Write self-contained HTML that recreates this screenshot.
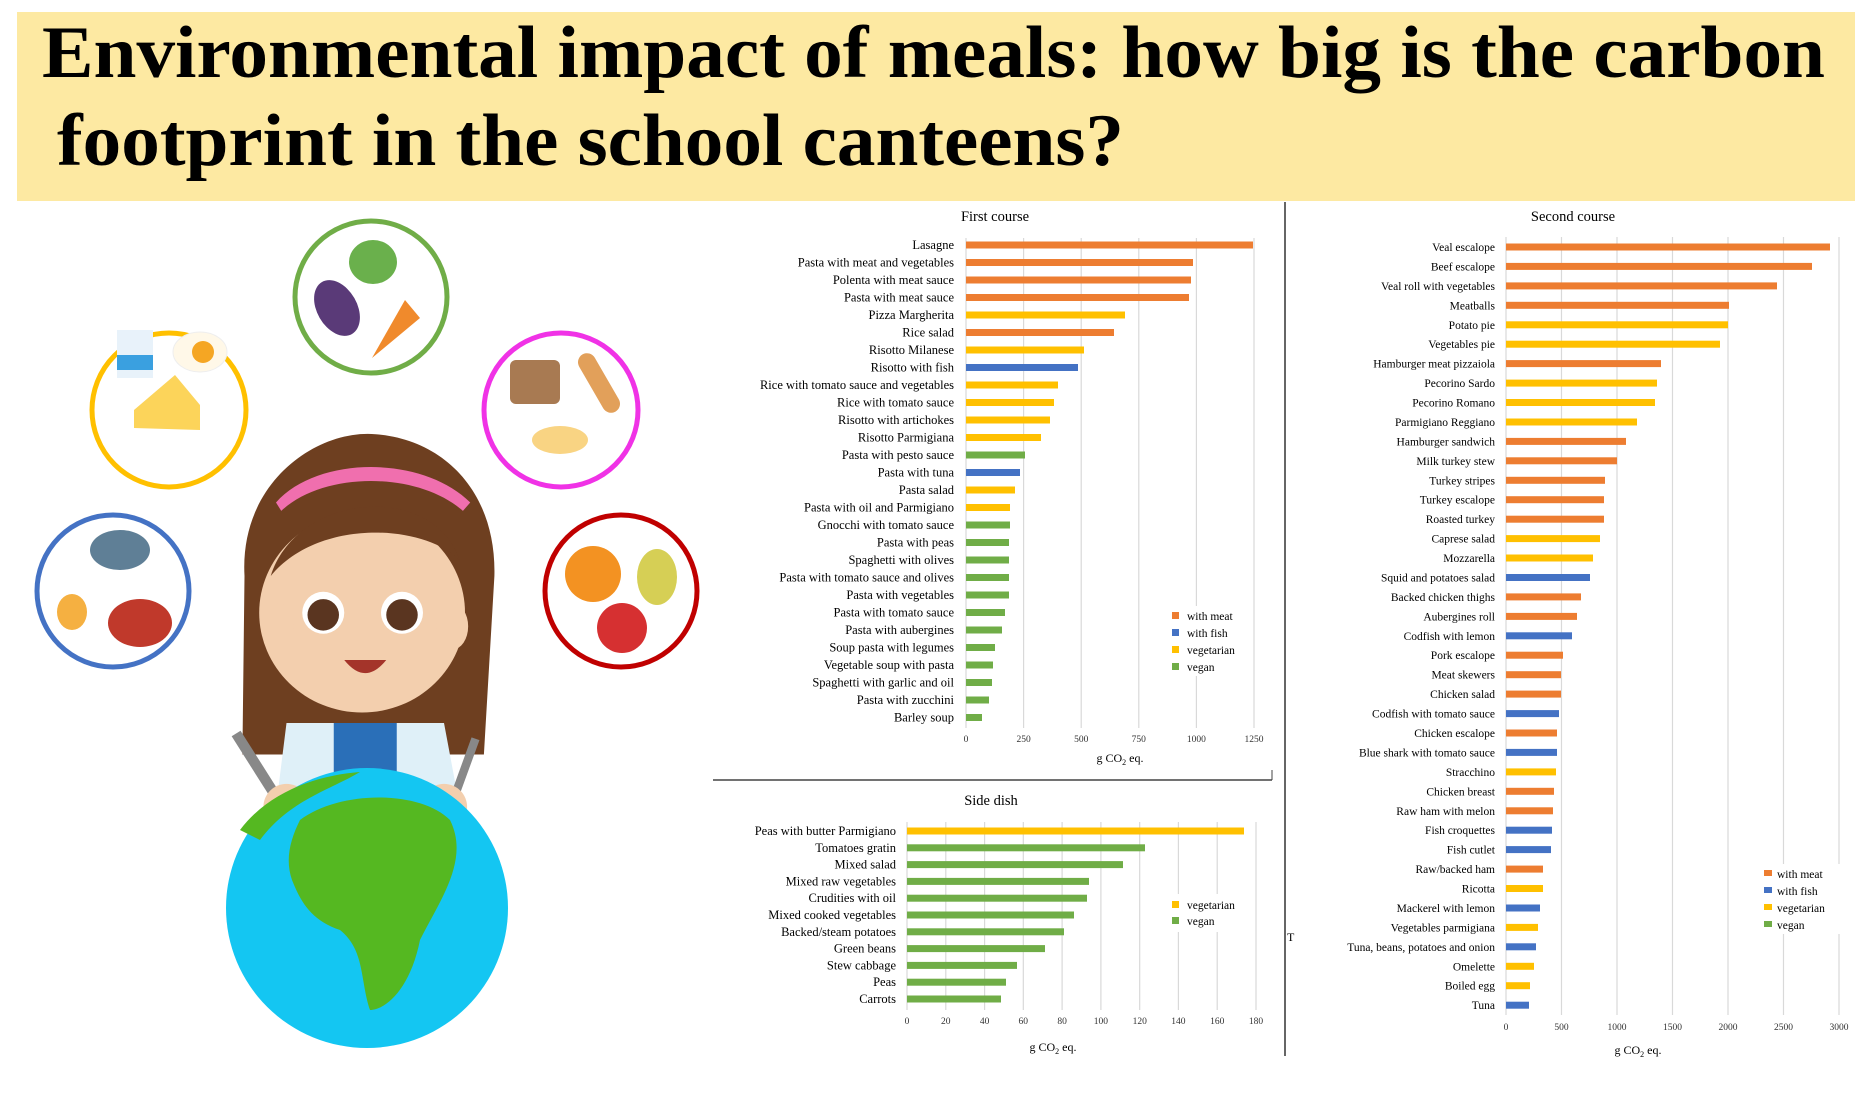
<!DOCTYPE html>
<html><head><meta charset="utf-8"><style>
html,body{margin:0;padding:0;background:#fff;}
svg{display:block;}
text{font-family:"Liberation Serif",serif;fill:#000;}
.l1{font-size:12.5px;text-anchor:end;}
.l2{font-size:11.5px;text-anchor:end;}
.tk{font-size:9.5px;text-anchor:middle;fill:#333;}
.ttl{font-size:14.5px;text-anchor:middle;}
.lg{font-size:11.5px;}
</style></head><body>
<svg width="1864" height="1093" viewBox="0 0 1864 1093" xmlns="http://www.w3.org/2000/svg">
<rect width="1864" height="1093" fill="#fff"/>
<rect x="17" y="12" width="1838" height="189" fill="#fde9a2"/>
<text x="42" y="77" font-size="74" font-weight="bold" textLength="1783" lengthAdjust="spacingAndGlyphs">Environmental impact of meals: how big is the carbon</text>
<text x="57" y="165" font-size="74" font-weight="bold" textLength="1067" lengthAdjust="spacingAndGlyphs">footprint in the school canteens?</text>

<g>
<circle cx="371" cy="297" r="76" fill="none" stroke="#70ad47" stroke-width="5"/>
<ellipse cx="337" cy="308" rx="20" ry="30" fill="#5a3a78" transform="rotate(-30 337 308)"/>
<ellipse cx="373" cy="262" rx="24" ry="22" fill="#6ab04c"/>
<polygon points="372,358 405,300 420,318" fill="#f08a2c"/>
<circle cx="169" cy="410" r="77" fill="none" stroke="#ffc000" stroke-width="5"/>
<rect x="117" y="330" width="36" height="48" fill="#e8f2fa"/><rect x="117" y="355" width="36" height="15" fill="#3aa0e0"/>
<ellipse cx="200" cy="352" rx="27" ry="20" fill="#fff8e8" stroke="#eee"/><circle cx="203" cy="352" r="11" fill="#f5a623"/>
<polygon points="134,410 175,375 200,405 200,430 134,428" fill="#fcd45a"/>
<circle cx="561" cy="410" r="77" fill="none" stroke="#f032e6" stroke-width="5"/>
<rect x="510" y="360" width="50" height="44" rx="6" fill="#a87a52"/>
<rect x="590" y="350" width="18" height="66" rx="9" fill="#e2a05a" transform="rotate(-30 599 383)"/>
<ellipse cx="560" cy="440" rx="28" ry="14" fill="#f9d483"/>
<circle cx="113" cy="591" r="76" fill="none" stroke="#4472c4" stroke-width="5"/>
<ellipse cx="120" cy="550" rx="30" ry="20" fill="#5f7f96"/>
<ellipse cx="72" cy="612" rx="15" ry="18" fill="#f5b041"/>
<ellipse cx="140" cy="623" rx="32" ry="24" fill="#c0392b"/>
<circle cx="621" cy="591" r="76" fill="none" stroke="#c00000" stroke-width="5"/>
<circle cx="593" cy="574" r="28" fill="#f39222"/>
<ellipse cx="657" cy="577" rx="20" ry="28" fill="#d6cf55"/>
<circle cx="622" cy="628" r="25" fill="#d63031"/>
<g transform="translate(-18,30) scale(1.05)">
<path d="M250,520 C245,430 320,380 375,385 C440,390 490,440 488,520 L478,690 L248,690 Z" fill="#6e3f20"/>
<ellipse cx="362" cy="555" rx="98" ry="95" fill="#f3cfae"/>
<path d="M275,520 C300,440 430,430 455,505 C420,470 320,465 275,520Z" fill="#6e3f20"/>
<path d="M280,450 C320,405 420,405 465,450 L458,458 C415,420 325,420 285,458Z" fill="#f06fae"/>
<ellipse cx="282" cy="568" rx="15" ry="22" fill="#f3cfae"/><ellipse cx="448" cy="568" rx="15" ry="22" fill="#f3cfae"/>
<circle cx="325" cy="555" r="20" fill="#fff"/><circle cx="325" cy="557" r="15" fill="#5a3520"/>
<circle cx="400" cy="555" r="20" fill="#fff"/><circle cx="400" cy="557" r="15" fill="#5a3520"/>
<path d="M345,600 Q365,625 385,600 Z" fill="#a4342a"/>
<path d="M290,660 L440,660 L455,740 L280,740Z" fill="#dff0f8"/>
<rect x="335" y="660" width="60" height="85" fill="#2a6fb8"/>
<path d="M242,670 L280,730" stroke="#888" stroke-width="10"/><path d="M470,675 L450,730" stroke="#888" stroke-width="8"/>
<circle cx="290" cy="740" r="22" fill="#f3cfae"/><circle cx="440" cy="740" r="22" fill="#f3cfae"/>
</g>
<ellipse cx="367" cy="908" rx="141" ry="140" fill="#14c6f2"/>
<path d="M300,820 C340,790 420,790 450,820 C470,860 440,900 420,940 C410,990 385,1010 370,1010 C360,980 365,950 340,930 C310,920 300,900 292,880 C285,860 290,840 300,820Z" fill="#55b821"/>
<path d="M240,830 C270,790 320,775 360,772 C330,790 290,800 260,840Z" fill="#55b821"/>
</g>

<line x1="1285" y1="202" x2="1285" y2="1056" stroke="#333" stroke-width="1.5"/>
<line x1="713" y1="780" x2="1272" y2="780" stroke="#444" stroke-width="1.5"/>
<line x1="1272" y1="770" x2="1272" y2="780" stroke="#444" stroke-width="1"/>
<text x="1287" y="941" font-size="12">T</text>

<text class="ttl" x="995" y="221">First course</text>
<g stroke="#d9d9d9" stroke-width="1.2">
<line x1="966" y1="238" x2="966" y2="728"/><line x1="1023.6" y1="238" x2="1023.6" y2="728"/><line x1="1081.2" y1="238" x2="1081.2" y2="728"/><line x1="1138.8" y1="238" x2="1138.8" y2="728"/><line x1="1196.4" y1="238" x2="1196.4" y2="728"/><line x1="1254" y1="238" x2="1254" y2="728"/>
</g>
<g>
<rect x="966" y="241.5" width="287" height="7" fill="#ed7d31"/>
<rect x="966" y="259" width="227" height="7" fill="#ed7d31"/>
<rect x="966" y="276.5" width="225" height="7" fill="#ed7d31"/>
<rect x="966" y="294" width="223" height="7" fill="#ed7d31"/>
<rect x="966" y="311.5" width="159" height="7" fill="#ffc000"/>
<rect x="966" y="329" width="148" height="7" fill="#ed7d31"/>
<rect x="966" y="346.5" width="118" height="7" fill="#ffc000"/>
<rect x="966" y="364" width="112" height="7" fill="#4472c4"/>
<rect x="966" y="381.5" width="92" height="7" fill="#ffc000"/>
<rect x="966" y="399" width="88" height="7" fill="#ffc000"/>
<rect x="966" y="416.5" width="84" height="7" fill="#ffc000"/>
<rect x="966" y="434" width="75" height="7" fill="#ffc000"/>
<rect x="966" y="451.5" width="59" height="7" fill="#70ad47"/>
<rect x="966" y="469" width="54" height="7" fill="#4472c4"/>
<rect x="966" y="486.5" width="49" height="7" fill="#ffc000"/>
<rect x="966" y="504" width="44" height="7" fill="#ffc000"/>
<rect x="966" y="521.5" width="44" height="7" fill="#70ad47"/>
<rect x="966" y="539" width="43" height="7" fill="#70ad47"/>
<rect x="966" y="556.5" width="43" height="7" fill="#70ad47"/>
<rect x="966" y="574" width="43" height="7" fill="#70ad47"/>
<rect x="966" y="591.5" width="43" height="7" fill="#70ad47"/>
<rect x="966" y="609" width="39" height="7" fill="#70ad47"/>
<rect x="966" y="626.5" width="36" height="7" fill="#70ad47"/>
<rect x="966" y="644" width="29" height="7" fill="#70ad47"/>
<rect x="966" y="661.5" width="27" height="7" fill="#70ad47"/>
<rect x="966" y="679" width="26" height="7" fill="#70ad47"/>
<rect x="966" y="696.5" width="23" height="7" fill="#70ad47"/>
<rect x="966" y="714" width="16" height="7" fill="#70ad47"/>
</g>
<g>
<text class="l1" x="954" y="249">Lasagne</text>
<text class="l1" x="954" y="266.5">Pasta with meat and vegetables</text>
<text class="l1" x="954" y="284">Polenta with meat sauce</text>
<text class="l1" x="954" y="301.5">Pasta with meat sauce</text>
<text class="l1" x="954" y="319">Pizza Margherita</text>
<text class="l1" x="954" y="336.5">Rice salad</text>
<text class="l1" x="954" y="354">Risotto Milanese</text>
<text class="l1" x="954" y="371.5">Risotto with fish</text>
<text class="l1" x="954" y="389">Rice with tomato sauce and vegetables</text>
<text class="l1" x="954" y="406.5">Rice with tomato sauce</text>
<text class="l1" x="954" y="424">Risotto with artichokes</text>
<text class="l1" x="954" y="441.5">Risotto Parmigiana</text>
<text class="l1" x="954" y="459">Pasta with pesto sauce</text>
<text class="l1" x="954" y="476.5">Pasta with tuna</text>
<text class="l1" x="954" y="494">Pasta salad</text>
<text class="l1" x="954" y="511.5">Pasta with oil and Parmigiano</text>
<text class="l1" x="954" y="529">Gnocchi with tomato sauce</text>
<text class="l1" x="954" y="546.5">Pasta with peas</text>
<text class="l1" x="954" y="564">Spaghetti with olives</text>
<text class="l1" x="954" y="581.5">Pasta with tomato sauce and olives</text>
<text class="l1" x="954" y="599">Pasta with vegetables</text>
<text class="l1" x="954" y="616.5">Pasta with tomato sauce</text>
<text class="l1" x="954" y="634">Pasta with aubergines</text>
<text class="l1" x="954" y="651.5">Soup pasta with legumes</text>
<text class="l1" x="954" y="669">Vegetable soup with pasta</text>
<text class="l1" x="954" y="686.5">Spaghetti with garlic and oil</text>
<text class="l1" x="954" y="704">Pasta with zucchini</text>
<text class="l1" x="954" y="721.5">Barley soup</text>
</g>
<text class="tk" x="966" y="742">0</text><text class="tk" x="1023.6" y="742">250</text><text class="tk" x="1081.2" y="742">500</text><text class="tk" x="1138.8" y="742">750</text><text class="tk" x="1196.4" y="742">1000</text><text class="tk" x="1254" y="742">1250</text>
<text x="1120" y="762" font-size="12" text-anchor="middle">g CO<tspan font-size="8" dy="3">2</tspan><tspan dy="-3"> eq.</tspan></text>
<rect x="1168" y="606" width="84" height="70" fill="#fff"/>
<rect x="1172" y="612" width="7" height="7" fill="#ed7d31"/><text class="lg" x="1187" y="620">with meat</text>
<rect x="1172" y="629" width="7" height="7" fill="#4472c4"/><text class="lg" x="1187" y="637">with fish</text>
<rect x="1172" y="646" width="7" height="7" fill="#ffc000"/><text class="lg" x="1187" y="654">vegetarian</text>
<rect x="1172" y="663" width="7" height="7" fill="#70ad47"/><text class="lg" x="1187" y="671">vegan</text>

<text class="ttl" x="1573" y="221">Second course</text>
<g stroke="#d9d9d9" stroke-width="1.2">
<line x1="1506" y1="237" x2="1506" y2="1015"/><line x1="1561.5" y1="237" x2="1561.5" y2="1015"/><line x1="1617" y1="237" x2="1617" y2="1015"/><line x1="1672.5" y1="237" x2="1672.5" y2="1015"/><line x1="1728" y1="237" x2="1728" y2="1015"/><line x1="1783.5" y1="237" x2="1783.5" y2="1015"/><line x1="1839" y1="237" x2="1839" y2="1015"/>
</g>
<g transform="translate(-3,0)">
<rect x="1509" y="243.5" width="324" height="7" fill="#ed7d31"/>
<rect x="1509" y="262.9" width="306" height="7" fill="#ed7d31"/>
<rect x="1509" y="282.4" width="271" height="7" fill="#ed7d31"/>
<rect x="1509" y="301.8" width="223" height="7" fill="#ed7d31"/>
<rect x="1509" y="321.3" width="222" height="7" fill="#ffc000"/>
<rect x="1509" y="340.7" width="214" height="7" fill="#ffc000"/>
<rect x="1509" y="360.1" width="155" height="7" fill="#ed7d31"/>
<rect x="1509" y="379.6" width="151" height="7" fill="#ffc000"/>
<rect x="1509" y="399" width="149" height="7" fill="#ffc000"/>
<rect x="1509" y="418.5" width="131" height="7" fill="#ffc000"/>
<rect x="1509" y="437.9" width="120" height="7" fill="#ed7d31"/>
<rect x="1509" y="457.3" width="111" height="7" fill="#ed7d31"/>
<rect x="1509" y="476.8" width="99" height="7" fill="#ed7d31"/>
<rect x="1509" y="496.2" width="98" height="7" fill="#ed7d31"/>
<rect x="1509" y="515.7" width="98" height="7" fill="#ed7d31"/>
<rect x="1509" y="535.1" width="94" height="7" fill="#ffc000"/>
<rect x="1509" y="554.5" width="87" height="7" fill="#ffc000"/>
<rect x="1509" y="574" width="84" height="7" fill="#4472c4"/>
<rect x="1509" y="593.4" width="75" height="7" fill="#ed7d31"/>
<rect x="1509" y="612.9" width="71" height="7" fill="#ed7d31"/>
<rect x="1509" y="632.3" width="66" height="7" fill="#4472c4"/>
<rect x="1509" y="651.7" width="57" height="7" fill="#ed7d31"/>
<rect x="1509" y="671.2" width="55" height="7" fill="#ed7d31"/>
<rect x="1509" y="690.6" width="55" height="7" fill="#ed7d31"/>
<rect x="1509" y="710.1" width="53" height="7" fill="#4472c4"/>
<rect x="1509" y="729.5" width="51" height="7" fill="#ed7d31"/>
<rect x="1509" y="748.9" width="51" height="7" fill="#4472c4"/>
<rect x="1509" y="768.4" width="50" height="7" fill="#ffc000"/>
<rect x="1509" y="787.8" width="48" height="7" fill="#ed7d31"/>
<rect x="1509" y="807.3" width="47" height="7" fill="#ed7d31"/>
<rect x="1509" y="826.7" width="46" height="7" fill="#4472c4"/>
<rect x="1509" y="846.1" width="45" height="7" fill="#4472c4"/>
<rect x="1509" y="865.6" width="37" height="7" fill="#ed7d31"/>
<rect x="1509" y="885" width="37" height="7" fill="#ffc000"/>
<rect x="1509" y="904.5" width="34" height="7" fill="#4472c4"/>
<rect x="1509" y="923.9" width="32" height="7" fill="#ffc000"/>
<rect x="1509" y="943.3" width="30" height="7" fill="#4472c4"/>
<rect x="1509" y="962.8" width="28" height="7" fill="#ffc000"/>
<rect x="1509" y="982.2" width="24" height="7" fill="#ffc000"/>
<rect x="1509" y="1001.7" width="23" height="7" fill="#4472c4"/>
</g>
<g>
<text class="l2" x="1495" y="251">Veal escalope</text>
<text class="l2" x="1495" y="270.4">Beef escalope</text>
<text class="l2" x="1495" y="289.9">Veal roll with vegetables</text>
<text class="l2" x="1495" y="309.3">Meatballs</text>
<text class="l2" x="1495" y="328.8">Potato pie</text>
<text class="l2" x="1495" y="348.2">Vegetables pie</text>
<text class="l2" x="1495" y="367.6">Hamburger meat pizzaiola</text>
<text class="l2" x="1495" y="387.1">Pecorino Sardo</text>
<text class="l2" x="1495" y="406.5">Pecorino Romano</text>
<text class="l2" x="1495" y="426">Parmigiano Reggiano</text>
<text class="l2" x="1495" y="445.4">Hamburger sandwich</text>
<text class="l2" x="1495" y="464.8">Milk turkey stew</text>
<text class="l2" x="1495" y="484.3">Turkey stripes</text>
<text class="l2" x="1495" y="503.7">Turkey escalope</text>
<text class="l2" x="1495" y="523.2">Roasted turkey</text>
<text class="l2" x="1495" y="542.6">Caprese salad</text>
<text class="l2" x="1495" y="562">Mozzarella</text>
<text class="l2" x="1495" y="581.5">Squid and potatoes salad</text>
<text class="l2" x="1495" y="600.9">Backed chicken thighs</text>
<text class="l2" x="1495" y="620.4">Aubergines roll</text>
<text class="l2" x="1495" y="639.8">Codfish with lemon</text>
<text class="l2" x="1495" y="659.2">Pork escalope</text>
<text class="l2" x="1495" y="678.7">Meat skewers</text>
<text class="l2" x="1495" y="698.1">Chicken salad</text>
<text class="l2" x="1495" y="717.6">Codfish with tomato sauce</text>
<text class="l2" x="1495" y="737">Chicken escalope</text>
<text class="l2" x="1495" y="756.4">Blue shark with tomato sauce</text>
<text class="l2" x="1495" y="775.9">Stracchino</text>
<text class="l2" x="1495" y="795.3">Chicken breast</text>
<text class="l2" x="1495" y="814.8">Raw ham with melon</text>
<text class="l2" x="1495" y="834.2">Fish croquettes</text>
<text class="l2" x="1495" y="853.6">Fish cutlet</text>
<text class="l2" x="1495" y="873.1">Raw/backed ham</text>
<text class="l2" x="1495" y="892.5">Ricotta</text>
<text class="l2" x="1495" y="912">Mackerel with lemon</text>
<text class="l2" x="1495" y="931.4">Vegetables parmigiana</text>
<text class="l2" x="1495" y="950.8">Tuna, beans, potatoes and onion</text>
<text class="l2" x="1495" y="970.3">Omelette</text>
<text class="l2" x="1495" y="989.7">Boiled egg</text>
<text class="l2" x="1495" y="1009.2">Tuna</text>
</g>
<text class="tk" x="1506" y="1030">0</text><text class="tk" x="1561.5" y="1030">500</text><text class="tk" x="1617" y="1030">1000</text><text class="tk" x="1672.5" y="1030">1500</text><text class="tk" x="1728" y="1030">2000</text><text class="tk" x="1783.5" y="1030">2500</text><text class="tk" x="1839" y="1030">3000</text>
<text x="1638" y="1054" font-size="12" text-anchor="middle">g CO<tspan font-size="8" dy="3">2</tspan><tspan dy="-3"> eq.</tspan></text>
<rect x="1760" y="864" width="86" height="70" fill="#fff"/>
<rect x="1764" y="870" width="8" height="6" fill="#ed7d31"/><text class="lg" x="1777" y="878">with meat</text>
<rect x="1764" y="887" width="8" height="6" fill="#4472c4"/><text class="lg" x="1777" y="895">with fish</text>
<rect x="1764" y="904" width="8" height="6" fill="#ffc000"/><text class="lg" x="1777" y="912">vegetarian</text>
<rect x="1764" y="921" width="8" height="6" fill="#70ad47"/><text class="lg" x="1777" y="929">vegan</text>

<text class="ttl" x="991" y="805">Side dish</text>
<g stroke="#d9d9d9" stroke-width="1.2">
<line x1="907" y1="822" x2="907" y2="1010"/><line x1="945.8" y1="822" x2="945.8" y2="1010"/><line x1="984.6" y1="822" x2="984.6" y2="1010"/><line x1="1023.3" y1="822" x2="1023.3" y2="1010"/><line x1="1062.1" y1="822" x2="1062.1" y2="1010"/><line x1="1100.9" y1="822" x2="1100.9" y2="1010"/><line x1="1139.7" y1="822" x2="1139.7" y2="1010"/><line x1="1178.4" y1="822" x2="1178.4" y2="1010"/><line x1="1217.2" y1="822" x2="1217.2" y2="1010"/><line x1="1256" y1="822" x2="1256" y2="1010"/>
</g>
<g transform="translate(-2,0)">
<rect x="909" y="827.5" width="337" height="7" fill="#ffc000"/>
<rect x="909" y="844.3" width="238" height="7" fill="#70ad47"/>
<rect x="909" y="861.1" width="216" height="7" fill="#70ad47"/>
<rect x="909" y="877.9" width="182" height="7" fill="#70ad47"/>
<rect x="909" y="894.7" width="180" height="7" fill="#70ad47"/>
<rect x="909" y="911.5" width="167" height="7" fill="#70ad47"/>
<rect x="909" y="928.3" width="157" height="7" fill="#70ad47"/>
<rect x="909" y="945.1" width="138" height="7" fill="#70ad47"/>
<rect x="909" y="961.9" width="110" height="7" fill="#70ad47"/>
<rect x="909" y="978.7" width="99" height="7" fill="#70ad47"/>
<rect x="909" y="995.5" width="94" height="7" fill="#70ad47"/>
</g>
<g>
<text class="l1" x="896" y="835">Peas with butter Parmigiano</text>
<text class="l1" x="896" y="851.8">Tomatoes gratin</text>
<text class="l1" x="896" y="868.6">Mixed salad</text>
<text class="l1" x="896" y="885.4">Mixed raw vegetables</text>
<text class="l1" x="896" y="902.2">Crudities with oil</text>
<text class="l1" x="896" y="919">Mixed cooked vegetables</text>
<text class="l1" x="896" y="935.8">Backed/steam potatoes</text>
<text class="l1" x="896" y="952.6">Green beans</text>
<text class="l1" x="896" y="969.4">Stew cabbage</text>
<text class="l1" x="896" y="986.2">Peas</text>
<text class="l1" x="896" y="1003">Carrots</text>
</g>
<text class="tk" x="907" y="1024">0</text><text class="tk" x="945.8" y="1024">20</text><text class="tk" x="984.6" y="1024">40</text><text class="tk" x="1023.3" y="1024">60</text><text class="tk" x="1062.1" y="1024">80</text><text class="tk" x="1100.9" y="1024">100</text><text class="tk" x="1139.7" y="1024">120</text><text class="tk" x="1178.4" y="1024">140</text><text class="tk" x="1217.2" y="1024">160</text><text class="tk" x="1256" y="1024">180</text>
<text x="1053" y="1051" font-size="12" text-anchor="middle">g CO<tspan font-size="8" dy="3">2</tspan><tspan dy="-3"> eq.</tspan></text>
<rect x="1168" y="894" width="86" height="38" fill="#fff"/>
<rect x="1172" y="901" width="7" height="7" fill="#ffc000"/><text class="lg" x="1187" y="909">vegetarian</text>
<rect x="1172" y="917" width="7" height="7" fill="#70ad47"/><text class="lg" x="1187" y="925">vegan</text>
</svg>
</body></html>
